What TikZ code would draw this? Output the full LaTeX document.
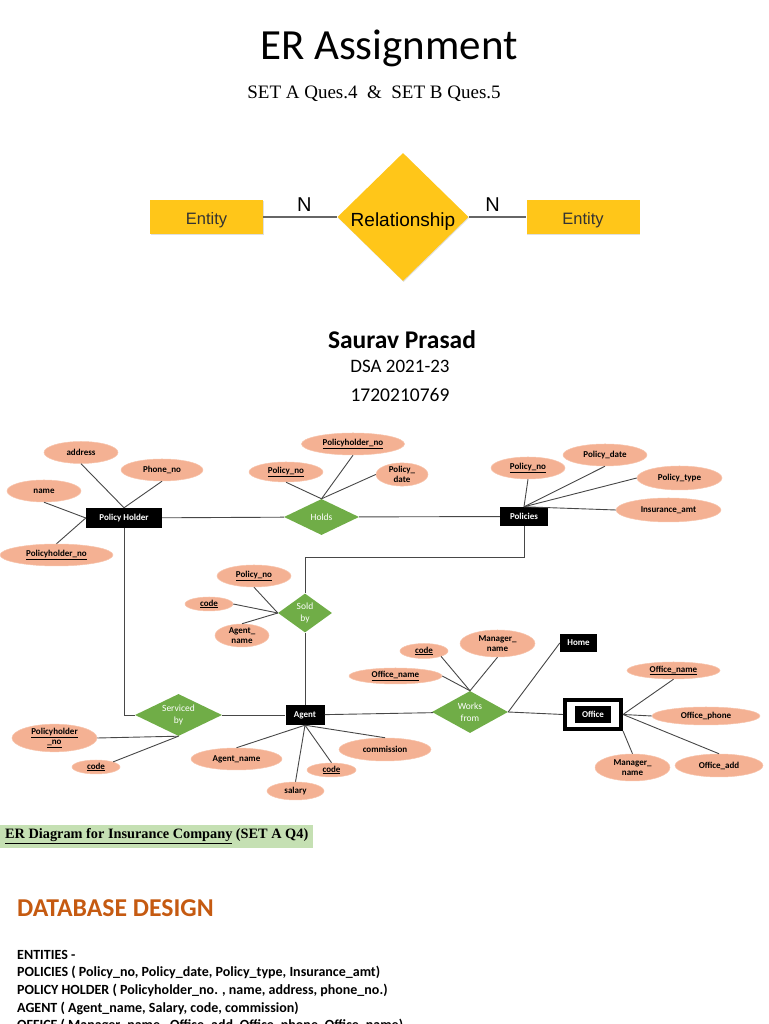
\documentclass[tikz,border=0pt]{standalone}
\usepackage{xcolor}
\usepackage{fontspec}
\setmainfont{Carlito}
\newfontfamily\serifface{Liberation Serif}
\newfontfamily\arialface{Liberation Sans}
\usepackage{tikz}
\usetikzlibrary{shapes.geometric, shadows}
\definecolor{goldfill}{HTML}{FFC619}
\definecolor{attrfill}{HTML}{F4B193}
\definecolor{attredge}{HTML}{F7C4AC}
\definecolor{relfill}{HTML}{70AD47}
\definecolor{capfill}{HTML}{C5E0B3}
\definecolor{headcol}{HTML}{C55A11}
\tikzstyle{goldbox} = [rectangle, minimum width=113pt, minimum height=34pt, fill=goldfill, text=black!80, drop shadow={opacity=0.25,shadow xshift=0.6pt,shadow yshift=-1pt}, font=\arialface\fontsize{16.5}{18}\selectfont]
\tikzstyle{golddia} = [diamond, inner sep=0pt, minimum width=131pt, minimum height=128pt, fill=goldfill, drop shadow={opacity=0.25,shadow xshift=0.6pt,shadow yshift=-1pt}, font=\arialface\fontsize{19}{20}\selectfont]
\tikzstyle{entity} = [rectangle, inner sep=0pt, fill=black, text=white, font=\fontsize{9}{10}\bfseries\selectfont]
\tikzstyle{relation} = [diamond, aspect=2, inner sep=0pt, align=center, fill=relfill, text=white, font=\fontsize{9.5}{12.5}\selectfont]
\tikzstyle{attr} = [ellipse, inner sep=0pt, align=center, fill=attrfill, draw=attredge, line width=0.5pt, font=\fontsize{9}{10}\bfseries\selectfont]
\tikzstyle{conn} = [draw=black!72, line width=0.9pt]
\tikzstyle{goldconn} = [draw=black!60, line width=1.2pt]
\tikzset{size/.style 2 args={minimum width=#1pt,minimum height=#2pt}}

\begin{document}
\begin{tikzpicture}[x=1pt,y=1pt,node distance=50pt]
		\clip (0,0) rectangle (768,1024);
		\node (title) at (389,976) {\fontsize{43}{50}\selectfont ER Assignment};
		\node (sets) [below of=title,xshift=-15pt,yshift=4pt] {\serifface\fontsize{19}{22}\selectfont SET A Ques.4~~\&~~SET B Ques.5};
		\node (rel) [golddia] at (403,807) {\raisebox{-9.5pt}[0pt][0pt]{Relationship}};
		\node (ent1) [goldbox,left of=rel,xshift=-146.5pt] {\raisebox{-7.8pt}[0pt][0pt]{Entity}};
		\node (ent2) [goldbox,right of=rel,xshift=130pt] {\raisebox{-7.8pt}[0pt][0pt]{Entity}};
		\draw [goldconn] (ent1) -- node (n1) [anchor=south,xshift=4pt,yshift=2pt,font=\arialface\fontsize{20}{22}\selectfont] {N} (rel);
		\draw [goldconn] (rel) -- node (n2) [anchor=south,xshift=-5pt,yshift=2pt,font=\arialface\fontsize{20}{22}\selectfont] {N} (ent2);
		\node (who) at (402,684) {\fontsize{25.5}{30}\bfseries\selectfont Saurav Prasad};
		\node (dsa) at (400,658) {\fontsize{19}{22}\selectfont DSA 2021-23};
		\node (roll) at (400,629) {\fontsize{19.5}{22}\selectfont 1720210769};

		\node (holder) [entity,size={76}{20}] at (124,506) {Policy Holder};
		\node (holds) [relation,size={75}{36},right of=holder,xshift=147.5pt,yshift=1pt] {Holds};
		\node (policies) [entity,size={48}{19},right of=holds,xshift=152.5pt,yshift=0.5pt] {Policies};
		\node (soldby) [relation,aspect=1.4,size={54}{39},below of=holds,xshift=-16.5pt,yshift=-46pt] {Sold\\by};
		\node (agent) [entity,size={39}{20},below of=soldby,yshift=-52pt] {Agent};
		\node (serviced) [relation,size={87}{42},left of=agent,xshift=-76.5pt] {Serviced\\by};
		\node (works) [relation,size={76}{42},right of=agent,xshift=115pt,yshift=3pt] {Works\\from};
		\node (office) [entity,size={36}{17},right of=works,xshift=73pt,yshift=-2.5pt] {Office};
		\node (officebox) [rectangle,draw=black,line width=4pt,size={56}{29}] at (office) {};
		\node (home) [entity,size={37}{18},above of=works,xshift=108.5pt,yshift=19pt] {Home};

		\node (address) [attr,size={74}{22},above of=holder,xshift=-43pt,yshift=15.5pt] {address};
		\node (phone) [attr,size={82}{22},above of=holder,xshift=38pt,yshift=-2pt] {Phone\_no};
		\node (name) [attr,size={74}{22},above of=holder,xshift=-80pt,yshift=-23pt] {name};
		\node (holderno) [attr,size={113}{22},below of=holder,xshift=-67.5pt,yshift=13pt] {\underline{Policyholder\_no}};

		\node (hpolno) [attr,size={74}{20},above of=holds,xshift=-35.5pt,yshift=-5pt] {\underline{Policy\_no}};
		\node (hholderno) [attr,size={103}{22},above of=holds,xshift=31.5pt,yshift=23pt] {\underline{Policyholder\_no}};
		\node (hdate) [attr,size={52}{23},above of=holds,xshift=80.5pt,yshift=-7.5pt] {Policy\_\\date};

		\node (ppolno) [attr,size={74}{22},above of=policies,xshift=4pt,yshift=-1.5pt] {\underline{Policy\_no}};
		\node (pdate) [attr,size={84}{22},above of=policies,xshift=81pt,yshift=11.5pt] {Policy\_date};
		\node (ptype) [attr,size={85}{24},above of=policies,xshift=155.5pt,yshift=-11.5pt] {Policy\_type};
		\node (pamt) [attr,size={105}{24},above of=policies,xshift=144.5pt,yshift=-43.5pt] {Insurance\_amt};

		\node (spolno) [attr,size={74}{22},above of=soldby,xshift=-51pt,yshift=-13pt] {\underline{Policy\_no}};
		\node (scode) [attr,size={48}{14},above of=soldby,xshift=-96pt,yshift=-41pt] {\underline{code}};
		\node (sname) [attr,size={54}{23},below of=soldby,xshift=-63pt,yshift=27.5pt] {Agent\_\\name};

		\node (vholderno) [attr,size={85}{22},below of=serviced,xshift=-124pt,yshift=27pt] {\underline{Policyholder}\\\underline{\_no}};
		\node (vcode) [attr,size={48}{14},below of=serviced,xshift=-82.5pt,yshift=-2pt] {\underline{code}};

		\node (aname) [attr,size={91}{22},below of=agent,xshift=-68.5pt,yshift=6pt] {Agent\_name};
		\node (asalary) [attr,size={57}{18},below of=agent,xshift=-9.5pt,yshift=-26pt] {salary};
		\node (acode) [attr,size={49}{14},below of=agent,xshift=26.5pt,yshift=-5pt] {\underline{code}};
		\node (acomm) [attr,size={92}{23},below of=agent,xshift=80pt,yshift=15.5pt] {commission};

		\node (wcode) [attr,size={48}{15},above of=works,xshift=-46pt,yshift=11pt] {\underline{code}};
		\node (wmanager) [attr,size={75}{27},above of=works,xshift=27.5pt,yshift=18.5pt] {Manager\_\\name};
		\node (wname) [attr,size={93}{16},above of=works,xshift=-74.5pt,yshift=-14pt] {\underline{Office\_name}};

		\node (oname) [attr,size={93}{17},above of=office,xshift=80.5pt,yshift=-6pt] {\underline{Office\_name}};
		\node (ophone) [attr,size={108}{18},right of=office,xshift=63pt,yshift=-1.5pt] {Office\_phone};
		\node (oadd) [attr,size={88}{23},below of=office,xshift=126pt,yshift=-1pt] {Office\_add};
		\node (omanager) [attr,size={75}{27},below of=office,xshift=39.5pt,yshift=-3pt] {Manager\_\\name};

		\draw [conn] (holder) -- (holds);
		\draw [conn] (holds) -- (policies);
		\draw [conn] (holder.south) |- (serviced.west);
		\draw [conn] (serviced) -- (agent);
		\draw [conn] (agent) -- (works);
		\draw [conn] (agent) -- (soldby);
		\draw [conn] (policies.south) -- ++(0,-31) -| (soldby.north);
		\draw [conn] (works.east) -- (officebox.west);
		\draw [conn] (works.east) -- (home.west);

		\draw [conn] (address.south) -- (holder.north);
		\draw [conn] (phone.south) -- (holder.north);
		\draw [conn] (name.south) -- (holder.west);
		\draw [conn] (holderno.north) -- (holder.west);
		\draw [conn] (hpolno.south) -- (holds.north);
		\draw [conn] (hholderno.south) -- (holds.north);
		\draw [conn] (hdate.west) -- (holds.north);
		\draw [conn] (ppolno.south) -- (policies.north);
		\draw [conn] (pdate.south) -- (policies.north);
		\draw [conn] (ptype.west) -- (policies.north);
		\draw [conn] (pamt.west) -- (policies.north);
		\draw [conn] (spolno.south) -- (soldby.west);
		\draw [conn] (scode.east) -- (soldby.west);
		\draw [conn] (sname.north) -- (soldby.west);
		\draw [conn] (vholderno.east) -- (serviced.south);
		\draw [conn] (vcode.north east) -- (serviced.south);
		\draw [conn] (aname.north) -- (agent.south);
		\draw [conn] (asalary.north) -- (agent.south);
		\draw [conn] (acode.north) -- (agent.south);
		\draw [conn] (acomm.north) -- (agent.south);
		\draw [conn] (wcode.south east) -- (works.north);
		\draw [conn] (wmanager.south) -- (works.north);
		\draw [conn] (wname.east) -- (works.north);
		\draw [conn] (oname.south) -- (officebox.east);
		\draw [conn] (ophone.west) -- (officebox.east);
		\draw [conn] (oadd.north) -- (officebox.east);
		\draw [conn] (omanager.north) -- (officebox.south east);

		\node (caption) [anchor=west,fill=capfill,inner xsep=5pt,inner ysep=0pt,minimum height=23pt,font=\serifface\fontsize{14.3}{16}\selectfont] at (0,187.5) {\textbf{\underline{ER Diagram for Insurance Company}} \textbf{(SET A Q4)}};
		\node (dbhead) [anchor=west,inner sep=0pt,text=headcol,font=\fontsize{25.7}{28}\bfseries\selectfont] at (17,115.5) {DATABASE DESIGN};
		\node (entities) [anchor=north west,inner sep=0pt,align=left,font=\fontsize{14}{17.6}\bfseries\selectfont] at (17,74) {ENTITIES -\\POLICIES ( Policy\_no, Policy\_date, Policy\_type, Insurance\_amt)\\POLICY HOLDER ( Policyholder\_no. , name, address, phone\_no.)\\AGENT ( Agent\_name, Salary, code, commission)\\OFFICE ( Manager\_name , Office\_add, Office\_phone, Office\_name)};
	\end{tikzpicture}
\end{document}
